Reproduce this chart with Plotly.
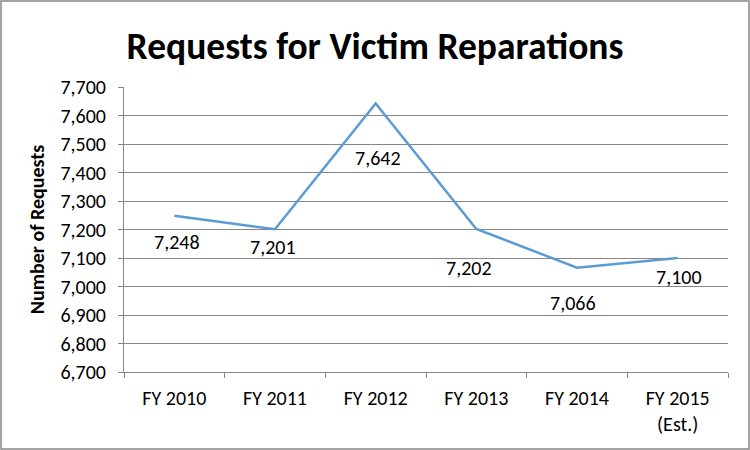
import plotly.graph_objects as go

categories = ["FY 2010", "FY 2011", "FY 2012", "FY 2013", "FY 2014", "FY 2015<br>(Est.)"]
requests = [7248, 7201, 7642, 7202, 7066, 7100]
label_text = ["7,248", "7,201", "7,642", "7,202", "7,066", "7,100"]
label_shift = [-26, -18, -54, -39, -35, -19]
label_xshift = [3, -2, 2, -7, -4, 1]
y_ticks = list(range(6700, 7701, 100))

W, H = 750, 450
L, R, T, B = 124, 22, 87, 78
pw, ph = W - L - R, H - T - B

FONT = "Carlito, Calibri, 'Liberation Sans Narrow', 'Liberation Sans', sans-serif"

fig = go.Figure()
fig.add_trace(go.Scatter(
    x=categories, y=requests, mode="lines",
    line=dict(color="#5B9BD5", width=2.5),
    hoverinfo="skip", showlegend=False,
))

for c, v, t, s, xs in zip(categories, requests, label_text, label_shift, label_xshift):
    fig.add_annotation(x=c, y=v, text=t, showarrow=False, yshift=s, xshift=xs,
                       font=dict(size=20, color="#000000", family=FONT))

# outer chart border
fig.add_shape(type="rect", xref="paper", yref="paper",
              x0=(1 - L) / pw, x1=(W - L - 1) / pw,
              y0=(-B + 1) / ph, y1=(H - B - 1) / ph,
              line=dict(color="#868686", width=1.5), layer="above")

fig.update_layout(
    width=W, height=H,
    margin=dict(l=L, r=R, t=T, b=B),
    paper_bgcolor="white", plot_bgcolor="white",
    title=dict(text="<b>Requests for Victim Reparations</b>", x=0.5, xref="container",
               xanchor="center",
               y=1 - 46 / H, yanchor="middle",
               font=dict(size=37.5, color="#000000", family=FONT)),
    font=dict(family=FONT, color="#000000"),
    xaxis=dict(
        type="category", tickson="boundaries", ticks="outside", ticklen=5,
        tickcolor="#868686", showline=True, linecolor="#868686", linewidth=1,
        showgrid=False, tickfont=dict(size=20, family=FONT, color="#000000"),
        range=[-0.5, 5.5], ticklabelstandoff=8,
    ),
    yaxis=dict(
        range=[6700, 7700], tickvals=y_ticks, tickformat=",d",
        ticks="outside", ticklen=5, tickcolor="#868686",
        showline=True, linecolor="#868686", linewidth=1,
        showgrid=True, gridcolor="#868686", gridwidth=1, zeroline=False,
        tickfont=dict(size=20, family=FONT, color="#000000"),
        ticklabelstandoff=8,
        title=dict(text="<b>Number of Requests</b>", standoff=10,
                   font=dict(size=20, family=FONT, color="#000000")),
    ),
)

fig.write_html("out.html", config={"displayModeBar": False},
               post_script="document.body.style.margin='0';document.body.style.overflow='hidden';")
